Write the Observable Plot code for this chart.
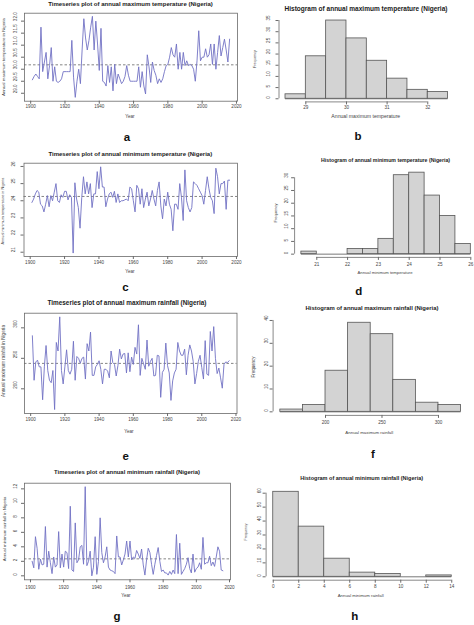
<!DOCTYPE html>
<html>
<head>
<meta charset="utf-8">
<script src="https://cdn.jsdelivr.net/npm/d3@7"></script>
<script src="https://cdn.jsdelivr.net/npm/@observablehq/plot@0.6"></script>
<style>
  html, body { margin: 0; padding: 0; background: #fff; overflow: hidden; }
  #fig { position: relative; width: 474px; height: 625px; overflow: hidden; background: #fff;
         font-family: "Liberation Sans", Arial, sans-serif; }
  #fig svg { position: absolute; max-width: none !important; }
  .lbl { position: absolute; white-space: nowrap; line-height: 1; }
</style>
</head>
<body>
<div id="fig"></div>
<script>
// ---- Annual series for Nigeria, 1901-2016 ----
const years = d3.range(1901, 2017);
const yearTicks = [1900, 1920, 1940, 1960, 1980, 2000, 2020];

// annual maximum temperature (deg C)
const maxTemp = [
  29.56, 29.7, 29.8, 29.7, 29.6, 31.75, 29.9, 30.3, 30.7, 29.6,
  30.15, 30.9, 29.5, 30.1, 29.5, 29.45, 29.5, 29.6, 29.9, 29.9,
  29.9, 29.9, 29.9, 31.2, 29.67, 28.83, 29.5, 30.0, 29.4, 30.8,
  32.1, 31.3, 30.8, 31.2, 31.75, 32.2, 30.8, 32.0, 31.05, 29.95,
  31.7, 29.5, 29.45, 29.3, 30.15, 29.45, 30.1, 29.1, 30.2, 29.4,
  29.8, 29.6, 29.4, 29.5, 29.7, 30.15, 29.75, 29.5, 29.5, 29.5,
  29.5, 29.5, 30.1, 29.25, 29.9, 29.3, 28.97, 30.6, 30.1, 29.45,
  30.3, 29.95, 29.75, 29.4, 29.6, 29.45, 29.6, 29.9, 30.15, 30.2,
  30.5, 30.9, 30.6, 30.5, 31.05, 30.0, 30.7, 30.0, 30.7, 30.15,
  30.35, 30.15, 30.2, 30.15, 30.0, 29.5, 30.35, 31.6, 30.35, 30.5,
  30.5, 30.85, 30.5, 30.6, 31.05, 30.2, 31.05, 30.0, 30.7, 31.4,
  30.55, 30.9, 31.25, 30.8, 30.3, 31.25
];

// annual minimum temperature (deg C)
const minTemp = [
  23.9, 24.1, 24.4, 24.6, 24.5, 23.8, 23.7, 23.35, 23.8, 24.3,
  23.65, 24.3, 24.0, 24.5, 25.0, 24.0, 23.9, 24.35, 24.2, 24.55,
  24.55, 24.05, 24.35, 24.2, 20.95, 25.05, 24.1, 23.6, 22.4, 24.2,
  25.4, 24.4, 25.1, 24.4, 25.0, 23.6, 24.4, 24.4, 25.7, 24.7,
  25.98, 24.8, 24.8, 23.65, 24.1, 24.4, 24.5, 24.2, 24.55, 23.9,
  24.4, 23.9, 24.0, 24.0, 24.05, 24.1, 24.0, 24.8, 24.7, 24.0,
  23.35, 24.9, 24.7, 23.8, 24.7, 23.6, 24.1, 24.5, 23.7, 24.1,
  24.6, 24.1, 23.7, 24.6, 25.1, 23.7, 22.95, 24.1, 23.7, 24.5,
  23.8, 23.5, 22.25, 23.8, 23.8, 23.5, 25.0, 24.2, 22.85, 25.8,
  24.0, 23.6, 23.35, 23.6, 25.1, 25.0, 24.9, 24.7, 24.5, 24.3,
  23.8, 24.6, 25.4, 24.7, 24.2, 24.0, 23.25, 25.9, 25.4, 24.4,
  25.0, 25.0, 25.15, 23.5, 25.2, 25.2
];

// annual maximum rainfall (mm)
const maxRain = [
  287, 214, 244, 247, 236, 236, 182, 236, 271, 230,
  214, 210, 230, 166, 276, 262, 318, 230, 208, 236,
  264, 230, 224, 232, 278, 214, 253, 250, 242, 250,
  252, 216, 274, 262, 293, 222, 222, 236, 240, 246,
  232, 208, 232, 232, 229, 218, 262, 243, 240, 221,
  238, 265, 249, 257, 258, 226, 259, 228, 252, 240,
  268, 257, 305, 222, 250, 241, 232, 280, 237, 245,
  250, 221, 222, 255, 254, 186, 227, 232, 275, 238,
  226, 181, 213, 226, 232, 276, 262, 255, 255, 265,
  223, 255, 272, 262, 245, 208, 225, 245, 255, 235,
  216, 279, 224, 222, 294, 262, 302, 250, 225, 234,
  218, 201, 240, 244, 243, 246
];

// annual minimum rainfall (mm)
const minRain = [
  2.0, 1.1, 5.4, 3.8, 0.9, 2.3, 1.5, 1.6, 6.8, 1.2,
  3.4, 1.8, 0.3, 2.6, 1.2, 1.5, 6.1, 1.1, 3.0, 1.2,
  3.4, 3.2, 1.0, 9.6, 0.8, 0.6, 7.3, 1.8, 2.2, 4.0,
  4.2, 1.6, 12.3, 1.4, 2.0, 3.4, 0.0, 1.2, 5.4, 0.2,
  2.0, 8.0, 3.2, 1.8, 2.6, 4.0, 1.2, 0.8, 0.7, 0.6,
  0.3, 5.5, 2.6, 2.6, 1.5, 2.2, 3.0, 4.8, 2.6, 4.8,
  2.2, 2.6, 2.4, 3.5, 3.0, 2.4, 3.7, 1.5, 0.1, 2.2,
  3.8, 3.2, 1.6, 0.2, 1.6, 2.8, 3.9, 2.0, 0.6, 0.8,
  0.4, 0.4, 0.1, 0.6, 0.2, 0.8, 0.3, 5.7, 0.3, 4.5,
  0.2, 0.6, 1.0, 1.6, 2.5, 1.0, 0.4, 3.0, 0.5, 1.0,
  1.2, 1.8, 0.9, 5.3, 1.6, 1.8, 1.8, 2.7, 1.4, 1.9,
  1.3, 2.6, 4.0, 3.4, 0.8, 0.7
];

// ---- Histogram bins (break points and frequencies) ----
const maxTempBreaks = [28.5, 29, 29.5, 30, 30.5, 31, 31.5, 32, 32.5];
const maxTempCounts = [2, 19, 35, 27, 17, 9, 4, 3];
const minTempBreaks = [20.5, 21, 21.5, 22, 22.5, 23, 23.5, 24, 24.5, 25, 25.5, 26];
const minTempCounts = [1, 0, 0, 2, 2, 6, 31, 32, 23, 15, 4];
const maxRainBreaks = [160, 180, 200, 220, 240, 260, 280, 300, 320];
const maxRainCounts = [1, 3, 18, 39, 34, 14, 4, 3];
const minRainBreaks = [0, 2, 4, 6, 8, 10, 12, 14];
const minRainCounts = [61, 36, 13, 3, 2, 0, 1];

// ---- Tick values ----
const maxTempTicks = [29, 29.5, 30, 30.5, 31, 31.5, 32];
const minTempTicks = [21, 22, 23, 24, 25, 26];
const maxRainTicks = [200, 250, 300];
const minRainTicks = [0, 2, 4, 6, 8, 10, 12];
const maxTempHistX = [29, 30, 31, 32];
const maxTempHistY = [0, 5, 10, 15, 20, 25, 30, 35];
const minTempHistX = [21, 22, 23, 24, 25, 26];
const minTempHistY = [0, 5, 10, 15, 20, 25, 30];
const maxRainHistX = [200, 250, 300];
const maxRainHistY = [0, 10, 20, 30, 40];
const minRainHistX = [0, 2, 4, 6, 8, 10, 12, 14];
const minRainHistY = [0, 10, 20, 30, 40, 50, 60];

// ---- Styling ----
const FONT = "'Liberation Sans', Arial, sans-serif";
const LINE = "#7272c4";
const AXIS = "#6a6a6a";
const TEXT = "#444";
const TICK_FONT = 4.6;

const fig = document.getElementById("fig");

function place(node, left, top) {
  node.style.left = left + "px";
  node.style.top = top + "px";
  fig.appendChild(node);
}

// text label centred at (x, y); optional width fit and rotation
function txt(str, x, y, {size = 4.6, bold = false, rot = 0, width = null, color = TEXT} = {}) {
  const d = document.createElement("div");
  d.className = "lbl";
  d.textContent = str;
  d.style.fontSize = size + "px";
  d.style.fontWeight = bold ? "bold" : "normal";
  d.style.color = color;
  fig.appendChild(d);
  if (width) {
    const w = d.getBoundingClientRect().width;
    if (w > 0) d.style.fontSize = (size * width / w) + "px";
  }
  d.style.left = x + "px";
  d.style.top = y + "px";
  d.style.transform = `translate(-50%, -50%) rotate(${rot}deg)`;
}

function svgStyle() {
  return {fontFamily: FONT, fontSize: TICK_FONT + "px", color: TEXT, background: "transparent", overflow: "visible"};
}

// time series with its mean as a dashed reference line
function timeseries({values, frame, svgTop, svgHeight, yDomain, yTicks, yFmt, yLabelOffset, tickPadding}) {
  const [fx0, fx1, fy0, fy1] = frame;
  const width = 240;
  const mean = d3.mean(values);
  const plot = Plot.plot({
    width, height: svgHeight,
    marginLeft: fx0, marginRight: width - fx1,
    marginTop: fy0 - svgTop, marginBottom: svgTop + svgHeight - fy1,
    style: svgStyle(),
    x: {domain: [1896.4, 2020.6]},
    y: {domain: yDomain},
    marks: [
      Plot.ruleY([mean], {stroke: "#666", strokeWidth: 0.8, strokeDasharray: "2.5,2"}),
      Plot.line(values, {x: (d, i) => years[i], y: d => d, stroke: LINE, strokeWidth: 0.9}),
      Plot.frame({stroke: AXIS, strokeWidth: 0.8}),
      Plot.axisX({ticks: yearTicks, tickSize: 3, tickPadding, tickFormat: d => String(d),
                  label: null, fontSize: TICK_FONT, color: AXIS, fill: TEXT}),
      Plot.axisY({ticks: yTicks, tickSize: 3, tickFormat: () => "", label: null, color: AXIS}),
      Plot.text(yTicks, {y: d => d, frameAnchor: "left", dx: -yLabelOffset, rotate: -90,
                         text: yFmt, fontSize: TICK_FONT, fill: TEXT})
    ]
  });
  place(plot, 0, svgTop);
}

// histogram drawn as R's hist(): detached axes spanning the tick range
function histogram({breaks, counts, xTicks, yTicks, left, top, width, height, region, yLabelOffset, tickPadding}) {
  const [rx0, rx1, ry0, ry1] = region;
  const pad = 0.04 * (breaks[breaks.length - 1] - breaks[0]);
  const ymax = d3.max(counts);
  const xDomain = [breaks[0] - pad, breaks[breaks.length - 1] + pad];
  const yDomain = [-0.04 * ymax, 1.04 * ymax];
  const bins = counts.map((n, i) => ({x1: breaks[i], x2: breaks[i + 1], y1: 0, n}));
  const plot = Plot.plot({
    width, height,
    marginLeft: rx0 - left, marginRight: left + width - rx1,
    marginTop: ry0 - top, marginBottom: top + height - ry1,
    style: svgStyle(),
    x: {domain: xDomain},
    y: {domain: yDomain},
    marks: [
      Plot.ruleY([0], {x1: breaks[0], x2: breaks[breaks.length - 1], stroke: "#555", strokeWidth: 0.8}),
      Plot.rectY(bins, {x1: "x1", x2: "x2", y1: "y1", y2: "n", fill: "#d3d3d3", stroke: "#555", strokeWidth: 0.8}),
      Plot.ruleY([yDomain[0]], {x1: xTicks[0], x2: xTicks[xTicks.length - 1], stroke: AXIS, strokeWidth: 0.8}),
      Plot.axisX({ticks: xTicks, tickSize: 3, tickPadding, tickFormat: d => String(d),
                  label: null, fontSize: TICK_FONT, color: AXIS, fill: TEXT}),
      Plot.ruleX([xDomain[0]], {y1: yTicks[0], y2: yTicks[yTicks.length - 1], stroke: AXIS, strokeWidth: 0.8}),
      Plot.axisY({ticks: yTicks, tickSize: 3, tickFormat: () => "", label: null, color: AXIS}),
      Plot.text(yTicks, {y: d => d, frameAnchor: "left", dx: -yLabelOffset, rotate: -90,
                         text: d => String(d), fontSize: TICK_FONT, fill: TEXT})
    ]
  });
  place(plot, left, top);
}

// ---- (a) maximum temperature series ----
timeseries({values: maxTemp, frame: [24, 237, 12.7, 100.7], svgTop: 0, svgHeight: 112,
  yDomain: [28.67, 32.33], yTicks: maxTempTicks, yFmt: d => d.toFixed(1), yLabelOffset: 9, tickPadding: 1});
// ---- (b) maximum temperature histogram ----
histogram({breaks: maxTempBreaks, counts: maxTempCounts, xTicks: maxTempHistX, yTicks: maxTempHistY,
  left: 237, top: 0, width: 237, height: 112, region: [278.5, 454.1, 16.9, 101.4], yLabelOffset: 10.7, tickPadding: 1.3});
// ---- (c) minimum temperature series ----
timeseries({values: minTemp, frame: [23.5, 237, 162.7, 256], svgTop: 150, svgHeight: 120,
  yDomain: [20.75, 26.19], yTicks: minTempTicks, yFmt: d => String(d), yLabelOffset: 10.8, tickPadding: 1.4});
// ---- (d) minimum temperature histogram ----
histogram({breaks: minTempBreaks, counts: minTempCounts, xTicks: minTempHistX, yTicks: minTempHistY,
  left: 237, top: 150, width: 245, height: 120, region: [294.1, 477.1, 168.9, 256.9], yLabelOffset: 8, tickPadding: 2.8});
// ---- (e) maximum rainfall series ----
timeseries({values: maxRain, frame: [24, 236.5, 312.7, 413], svgTop: 300, svgHeight: 127,
  yDomain: [159.5, 324], yTicks: maxRainTicks, yFmt: d => String(d), yLabelOffset: 9, tickPadding: 1.7});
// ---- (f) maximum rainfall histogram ----
histogram({breaks: maxRainBreaks, counts: maxRainCounts, xTicks: maxRainHistX, yTicks: maxRainHistY,
  left: 237, top: 300, width: 237, height: 127, region: [272.6, 467.8, 318.7, 414.9], yLabelOffset: 6.7, tickPadding: 2.1});
// ---- (g) minimum rainfall series ----
timeseries({values: minRain, frame: [24, 230, 482.7, 579.3], svgTop: 470, svgHeight: 125,
  yDomain: [-0.55, 12.78], yTicks: minRainTicks, yFmt: d => String(d), yLabelOffset: 9, tickPadding: 3});
// ---- (h) minimum rainfall histogram ----
histogram({breaks: minRainBreaks, counts: minRainCounts, xTicks: minRainHistX, yTicks: minRainHistY,
  left: 237, top: 470, width: 237, height: 125, region: [265.6, 458.4, 487.9, 579.7], yLabelOffset: 6.6, tickPadding: 1.7});

// ---- titles ----
const TITLE = {bold: true, color: "#1a1a1a", size: 5.4};
txt("Timeseries plot of annual maximum temperature (Nigeria)", 130.5, 4.2, {...TITLE, width: 165});
txt("Histogram of annual maximum temperature (Nigeria)", 366, 9.3, {...TITLE, width: 163});
txt("Timeseries plot of annual minimum temperature (Nigeria)", 130.3, 154, {...TITLE, width: 164});
txt("Histogram of annual minimum temperature (Nigeria)", 385.6, 161, {...TITLE, width: 129});
txt("Timeseries plot of annual maximum rainfall (Nigeria)", 127, 302.8, {...TITLE, width: 159});
txt("Histogram of annual maximum rainfall (Nigeria)", 372, 309.3, {...TITLE, width: 133});
txt("Timeseries plot of annual minimum rainfall (Nigeria)", 127, 473.3, {...TITLE, width: 146});
txt("Histogram of annual minimum rainfall (Nigeria)", 361.7, 479, {...TITLE, width: 123});

// ---- axis titles ----
txt("Year", 130, 117);
txt("Year", 130, 272);
txt("Year", 129, 431.7);
txt("Year", 126, 596);
txt("Annual maximum temperature in Nigeria", 3.6, 57, {rot: -90, width: 78});
txt("Annual minimum temperature in Nigeria", 4, 211, {rot: -90, width: 67});
txt("Annual maximum rainfall in Nigeria", 4, 360.5, {rot: -90, width: 72});
txt("Annual minimum rainfall in Nigeria", 4.7, 529, {rot: -90, width: 65});
txt("Annual maximum temperature", 365.8, 117.3, {width: 69});
txt("Annual minimum temperature", 385, 273.3, {width: 55});
txt("Annual maximum rainfall", 369.3, 432.7, {width: 48});
txt("Annual minimum rainfall", 360.7, 596, {width: 46});
txt("Frequency", 256, 59, {rot: -90, width: 18});
txt("Frequency", 276, 213, {rot: -90, width: 19});
txt("Frequency", 253.7, 366.7, {rot: -90, width: 21});
txt("Frequency", 247, 531.7, {rot: -90, width: 17});

// ---- panel letters ----
const TAG = {bold: true, size: 11.5, color: "#111"};
txt("a", 127, 138, TAG);
txt("b", 358, 137, TAG);
txt("c", 125.5, 287.7, TAG);
txt("d", 358.7, 291.7, TAG);
txt("e", 125.7, 456.7, TAG);
txt("f", 373, 455, TAG);
txt("g", 117, 617, TAG);
txt("h", 354.7, 616.5, TAG);
</script>
</body>
</html>
